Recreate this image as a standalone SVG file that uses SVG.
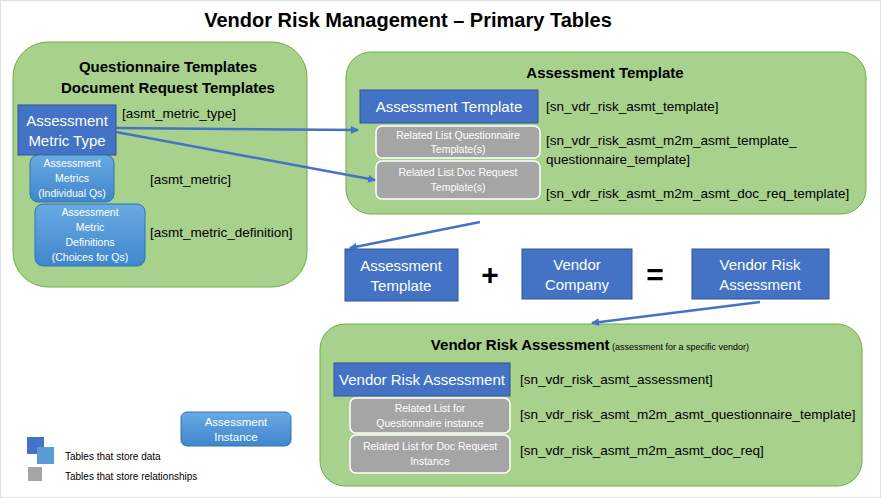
<svg xmlns="http://www.w3.org/2000/svg" width="881" height="498" viewBox="0 0 881 498">
<defs>
<linearGradient id="lb" x1="0" y1="0" x2="0" y2="1"><stop offset="0" stop-color="#6aaae3"/><stop offset="1" stop-color="#3f86cc"/></linearGradient>
<marker id="ah" markerWidth="8" markerHeight="8" refX="7" refY="4" orient="auto" markerUnits="userSpaceOnUse"><path d="M0,0 L8,4 L0,8 z" fill="#4472c4"/></marker>
<style>
text{font-family:"Liberation Sans",Arial,sans-serif;}
.panel{fill:#a9d18e;stroke:#70ad47;stroke-width:1}
.dark{fill:#4472c4;stroke:#2f5597;stroke-width:1}
.light{fill:url(#lb);stroke:#2e75b6;stroke-width:1}
.gray{fill:#a5a5a5;stroke:#fff;stroke-width:1.5}
.w{fill:#fff;text-anchor:middle}
.t{fill:#000;font-size:13.5px}
.h{font-weight:bold;font-size:15px;text-anchor:middle}
.c{stroke:#4472c4;stroke-width:2.5;fill:none;marker-end:url(#ah)}
</style>
</defs>
<rect x="0.5" y="0.5" width="880" height="497" fill="#fff" stroke="#e0e0e0"/>
<text x="408" y="27" font-size="20" font-weight="bold" text-anchor="middle">Vendor Risk Management – Primary Tables</text>

<g id="panel-questionnaire">
<rect class="panel" x="13" y="42" width="294" height="245" rx="35"/>
<text class="h" x="168" y="72">Questionnaire Templates</text>
<text class="h" x="168" y="93">Document Request Templates</text>
</g>
<g id="metric-type"><rect class="dark" x="18" y="105" width="98" height="50"/>
<text class="w" x="67" y="126" font-size="15">Assessment</text><text class="w" x="67" y="146" font-size="15">Metric Type</text>
<text class="t" x="122" y="118">[asmt_metric_type]</text></g>
<g id="metrics"><rect class="light" x="30" y="155" width="84" height="47" rx="8"/>
<text class="w" x="72" y="167" font-size="10.5">Assessment</text><text class="w" x="72" y="182" font-size="10.5">Metrics</text><text class="w" x="72" y="197" font-size="10.5">(Individual Qs)</text>
<text class="t" x="150" y="184">[asmt_metric]</text></g>
<g id="metric-def"><rect class="light" x="35" y="204" width="110" height="62" rx="8"/>
<text class="w" x="90" y="216" font-size="10.5">Assessment</text><text class="w" x="90" y="231" font-size="10.5">Metric</text><text class="w" x="90" y="246" font-size="10.5">Definitions</text><text class="w" x="90" y="261" font-size="10.5">(Choices for Qs)</text>
<text class="t" x="150" y="237">[asmt_metric_definition]</text></g>

<g id="panel-assessment-template">
<rect class="panel" x="346" y="52" width="520" height="162" rx="25"/>
<text class="h" x="605" y="78">Assessment Template</text>
</g>
<g id="asmt-template"><rect class="dark" x="360" y="90" width="178" height="33"/>
<text class="w" x="449" y="112" font-size="15">Assessment Template</text>
<text class="t" x="546" y="111">[sn_vdr_risk_asmt_template]</text></g>
<g id="rl-questionnaire"><rect class="gray" x="376" y="126" width="164" height="32" rx="6"/>
<text class="w" x="458" y="139" font-size="10.5">Related List Questionnaire</text><text class="w" x="458" y="153" font-size="10.5">Template(s)</text>
<text class="t" x="546" y="145">[sn_vdr_risk_asmt_m2m_asmt_template_</text><text class="t" x="546" y="164">questionnaire_template]</text></g>
<g id="rl-docreq"><rect class="gray" x="376" y="161" width="164" height="38" rx="6"/>
<text class="w" x="458" y="176" font-size="10.5">Related List Doc Request</text><text class="w" x="458" y="191" font-size="10.5">Template(s)</text>
<text class="t" x="546" y="198">[sn_vdr_risk_asmt_m2m_asmt_doc_req_template]</text></g>

<g id="mid-template"><rect class="dark" x="345" y="249" width="113" height="52"/>
<text class="w" x="401" y="271" font-size="15">Assessment</text><text class="w" x="401" y="291" font-size="15">Template</text></g>
<text x="490" y="285" font-size="30" font-weight="bold" text-anchor="middle">+</text>
<g id="vendor-company"><rect class="dark" x="522" y="249" width="110" height="50"/>
<text class="w" x="577" y="270" font-size="15">Vendor</text><text class="w" x="577" y="290" font-size="15">Company</text></g>
<text x="655" y="285" font-size="30" font-weight="bold" text-anchor="middle">=</text>
<g id="vra-mid"><rect class="dark" x="692" y="249" width="137" height="50"/>
<text class="w" x="760" y="270" font-size="15">Vendor Risk</text><text class="w" x="760" y="290" font-size="15">Assessment</text></g>

<g id="panel-vra">
<rect class="panel" x="320" y="324" width="542" height="162" rx="25"/>
<text x="590" y="350" text-anchor="middle"><tspan font-weight="bold" font-size="15">Vendor Risk Assessment</tspan><tspan font-size="9"> (assessment for a specific vendor)</tspan></text>
</g>
<g id="vra"><rect class="dark" x="334" y="363" width="176" height="33"/>
<text class="w" x="422" y="385" font-size="15">Vendor Risk Assessment</text>
<text class="t" x="520" y="384">[sn_vdr_risk_asmt_assessment]</text></g>
<g id="rl-q-inst"><rect class="gray" x="350" y="398" width="160" height="35" rx="6"/>
<text class="w" x="430" y="412" font-size="10.5">Related List for</text><text class="w" x="430" y="427" font-size="10.5">Questionnaire instance</text>
<text class="t" x="520" y="419">[sn_vdr_risk_asmt_m2m_asmt_questionnaire_template]</text></g>
<g id="rl-d-inst"><rect class="gray" x="350" y="435" width="160" height="38" rx="6"/>
<text class="w" x="430" y="450" font-size="10.5">Related List for Doc Request</text><text class="w" x="430" y="465" font-size="10.5">Instance</text>
<text class="t" x="520" y="455">[sn_vdr_risk_asmt_m2m_asmt_doc_req]</text></g>

<g id="assessment-instance"><rect class="light" x="181" y="412" width="110" height="34" rx="6"/>
<text class="w" x="236" y="426" font-size="11.5">Assessment</text><text class="w" x="236" y="441" font-size="11.5">Instance</text></g>

<g id="legend">
<rect x="27" y="437" width="17" height="17" fill="#4472c4"/>
<rect x="37" y="447" width="17" height="17" fill="#5b9bd5"/>
<rect x="28" y="467" width="14" height="14" fill="#a5a5a5"/>
<text x="65" y="460" font-size="10">Tables that store data</text>
<text x="65" y="480" font-size="10">Tables that store relationships</text>
</g>

<g id="connectors">
<path class="c" d="M116,128 L358,130"/>
<path class="c" d="M116,132 L375,180"/>
<path class="c" d="M480,222 L350,248"/>
<path class="c" d="M760,302 L592,323"/>
</g>
</svg>
